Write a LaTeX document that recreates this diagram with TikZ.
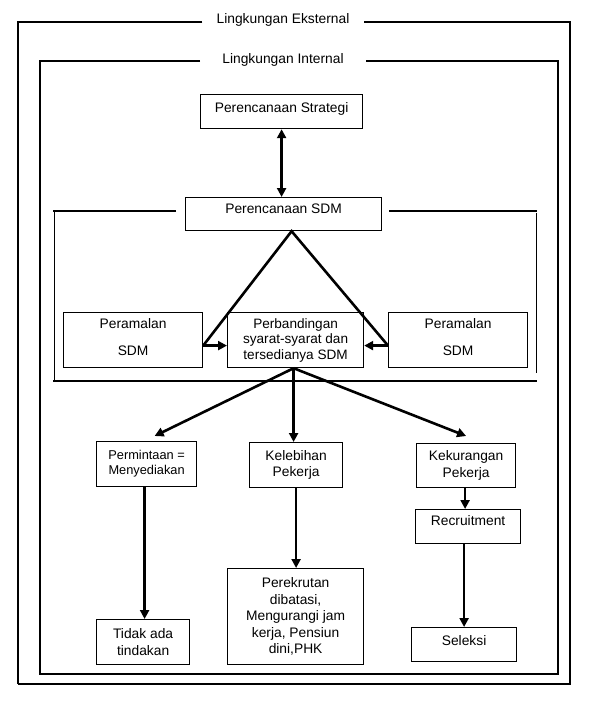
\documentclass[tikz,border=0pt]{standalone}
\usepackage{fontspec}
\setmainfont{Liberation Sans}
\usetikzlibrary{arrows.meta}

\begin{document}
\begin{tikzpicture}[x=1pt, y=-1pt,
  my box/.style={
    draw, line width=1.2pt, align=center, inner sep=0pt, anchor=north west,
    font=\fontsize{13.8}{16.5}\selectfont,
  },
  one line/.style={text height=10pt, text depth=#1},
  my title/.style={fill=white, inner ysep=1pt, font=\fontsize{13.8}{16}\selectfont},
  my line/.style={line width=2.6pt},
  my arrow/.style={line width=2.6pt, -{Triangle[length=9pt,width=9pt]}},
  ]
  \useasboundingbox (0,0) rectangle (592,712);
  % frames
  \node[my title, inner xsep=14pt] (ekst) at (283,20) {Lingkungan Eksternal};
  \draw[line width=1.5pt] (ekst.west |- 0,22) -| (18,684);
  \draw[line width=2.4pt] (18,684) -| (570,22) -- (ekst.east |- 0,22);
  \node[my title, inner xsep=22pt] (inter) at (283,60) {Lingkungan Internal};
  \draw[line width=2pt] (inter.west |- 0,61) -| (40,674) -| (558,61) -- (inter.east |- 0,61);
  % boxes
  \node[my box, one line=8pt, minimum width=162, minimum height=34] (strategi) at (200,94) {Perencanaan Strategi};
  \node[my box, one line=11pt, minimum width=196, minimum height=33] (sdm) at (185,197) {Perencanaan SDM};
  \node[my box, text depth=7pt, minimum width=139, minimum height=55] (ramalkiri) at (63,312) {Peramalan\\[10.5pt]SDM};
  \node[my box, minimum width=136, minimum height=55, font=\fontsize{13.6}{15.5}\selectfont] (banding) at (227,312) {Perbandingan\\syarat-syarat dan\\tersedianya SDM};
  \node[my box, text depth=7pt, minimum width=139, minimum height=55] (ramalkanan) at (388,312) {Peramalan\\[10.5pt]SDM};
  \node[my box, minimum width=100, minimum height=45, font=\fontsize{12.8}{15}\selectfont] (permintaan) at (96,441) {Permintaan =\\Menyediakan};
  \node[my box, minimum width=93, minimum height=45] (lebih) at (249,442) {Kelebihan\\Pekerja};
  \node[my box, minimum width=99, minimum height=44] (kurang) at (416,443) {Kekurangan\\Pekerja};
  \node[my box, one line=12pt, minimum width=105, minimum height=34] (rekrut) at (415,509) {Recruitment};
  \node[my box, minimum width=93, minimum height=45] (tidak) at (96,619) {Tidak ada\\tindakan};
  \node[my box, minimum width=136, minimum height=96] (perekrutan) at (227,568) {Perekrutan\\dibatasi,\\Mengurangi jam\\kerja, Pensiun\\dini,PHK};
  \node[my box, one line=8pt, minimum width=105, minimum height=34] (seleksi) at (411,627) {Seleksi};
  % bracket round the forecasting part
  \draw[line width=1.6pt] ([xshift=-9]sdm.west |- 0,211) -- (53,211);
  \draw[line width=1pt] (54,211) -- (54,381);
  \draw[line width=1.6pt] ([xshift=7]sdm.east |- 0,211) -- (537,211);
  \draw[line width=0.8pt] (536,213) -- (536,373);
  \draw[line width=2pt] (53,381) -- (537,381);
  % connectors
  \draw[line width=2.6pt, {Triangle[length=9pt,width=9pt]}-{Triangle[length=9pt,width=9pt]}] (strategi.south) -- (strategi.south |- sdm.north);
  \coordinate (puncak) at ([xshift=8]sdm.south);
  \coordinate (kakikiri) at ([yshift=-5.5]ramalkiri.east);
  \coordinate (kakikanan) at ([yshift=-5.5]ramalkanan.west);
  \draw[my line, line join=miter] (kakikiri) -- (puncak) -- (kakikanan);
  \draw[my arrow] (kakikiri) -- (kakikiri -| banding.west);
  \draw[my arrow] (kakikanan) -- (kakikanan -| banding.east);
  \coordinate (pangkal) at ([xshift=-2]banding.south);
  \draw[my arrow] (pangkal) -- ([xshift=8,yshift=5]permintaan.north);
  \draw[my arrow] (pangkal) -- (pangkal |- lebih.north);
  \draw[my arrow] (pangkal) -- ([yshift=7]kurang.north);
  \draw[my arrow] ([xshift=-2]permintaan.south) -- ([xshift=-2]permintaan.south |- tidak.north);
  \draw[my arrow] (lebih.south) -- (lebih.south |- perekrutan.north);
  \draw[my arrow] ([xshift=-1]kurang.south) -- ([xshift=-1]kurang.south |- rekrut.north);
  \draw[my arrow] ([xshift=-4]rekrut.south) -- ([xshift=-4]rekrut.south |- seleksi.north);
\end{tikzpicture}
\end{document}
